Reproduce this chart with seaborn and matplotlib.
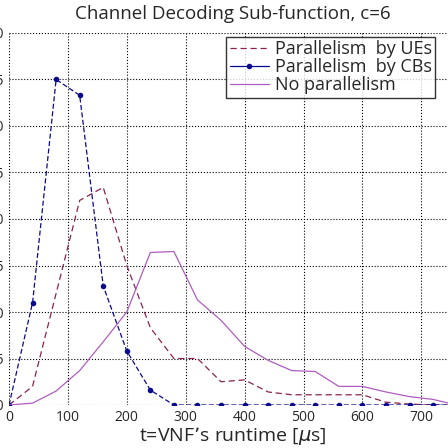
import matplotlib
matplotlib.use("Agg")
import matplotlib.pyplot as plt
import seaborn as sns
import pandas as pd

t = [0, 40, 80, 120, 160, 200, 240, 280, 320, 360, 400, 440, 480, 520, 560, 600, 640, 680, 720, 760]
ues = [0, 0.02, 0.12, 0.22, 0.234, 0.15, 0.083, 0.05, 0.05, 0.025, 0.027, 0.014, 0.011, 0.011, 0.011, 0.011, 0.003, 0.001, 0, 0]
cbs = [0, 0.11, 0.35, 0.333, 0.128, 0.058, 0.016, 0, 0, 0, 0, 0, 0, 0, 0, 0, 0, 0, 0, 0]
nopar = [0, 0.002, 0.015, 0.037, 0.068, 0.10, 0.164, 0.165, 0.113, 0.091, 0.063, 0.048, 0.037, 0.036, 0.02, 0.02, 0.014, 0.009, 0.006, 0]
xticks = [0, 100, 200, 300, 400, 500, 600, 700]
yticks = [0, 0.05, 0.1, 0.15, 0.2, 0.25, 0.3, 0.35, 0.4]

df = pd.DataFrame({"t": t, "ues": ues, "cbs": cbs, "nopar": nopar})
sns.set_style("white")
plt.rcParams['font.family'] = ['Open Sans', 'DejaVu Sans']

fig = plt.figure(figsize=(4.48, 4.48), dpi=100)
W = 448
ax = fig.add_axes([9/W, 1-405/W, 760*0.589/W, (405-33)/W])
sns.lineplot(data=df, x="t", y="ues", ax=ax, color="#8B2252", lw=0.9, linestyle=(0, (5, 3)), label="Parallelism  by UEs")
sns.lineplot(data=df, x="t", y="cbs", ax=ax, color="#0A0A8C", lw=0.9, linestyle=(0, (4, 2)), marker="o", markersize=4, markeredgewidth=0, label="Parallelism  by CBs")
sns.lineplot(data=df, x="t", y="nopar", ax=ax, color="#B05CC0", lw=0.9, label="No parallelism")
ax.set_xlim(0, 760)
ax.set_ylim(0, 0.4)
ax.set_xticks(xticks)
ax.set_yticks(yticks)
ax.tick_params(labelsize=10, length=0)
ax.grid(True, color="black", linestyle=":", lw=0.8)
for s in ax.spines.values():
    s.set_visible(False)
ax.set_xlabel("t=VNF\u2019s runtime [$\\mu$s]", fontsize=14, labelpad=0)
ax.set_ylabel("")
ax.set_title("Channel Decoding Sub-function, c=6", fontsize=13.5, pad=10)
leg = ax.legend(loc="upper left", bbox_to_anchor=((226-9)/(760*0.589), 0.99), fontsize=13,
                frameon=True, fancybox=False, edgecolor="black", handlelength=2.2,
                borderaxespad=0, labelspacing=0.0, handletextpad=0.3, borderpad=0.2)
leg.get_lines()[1].set_linestyle("-")
fig.savefig("out.png", dpi=100)
